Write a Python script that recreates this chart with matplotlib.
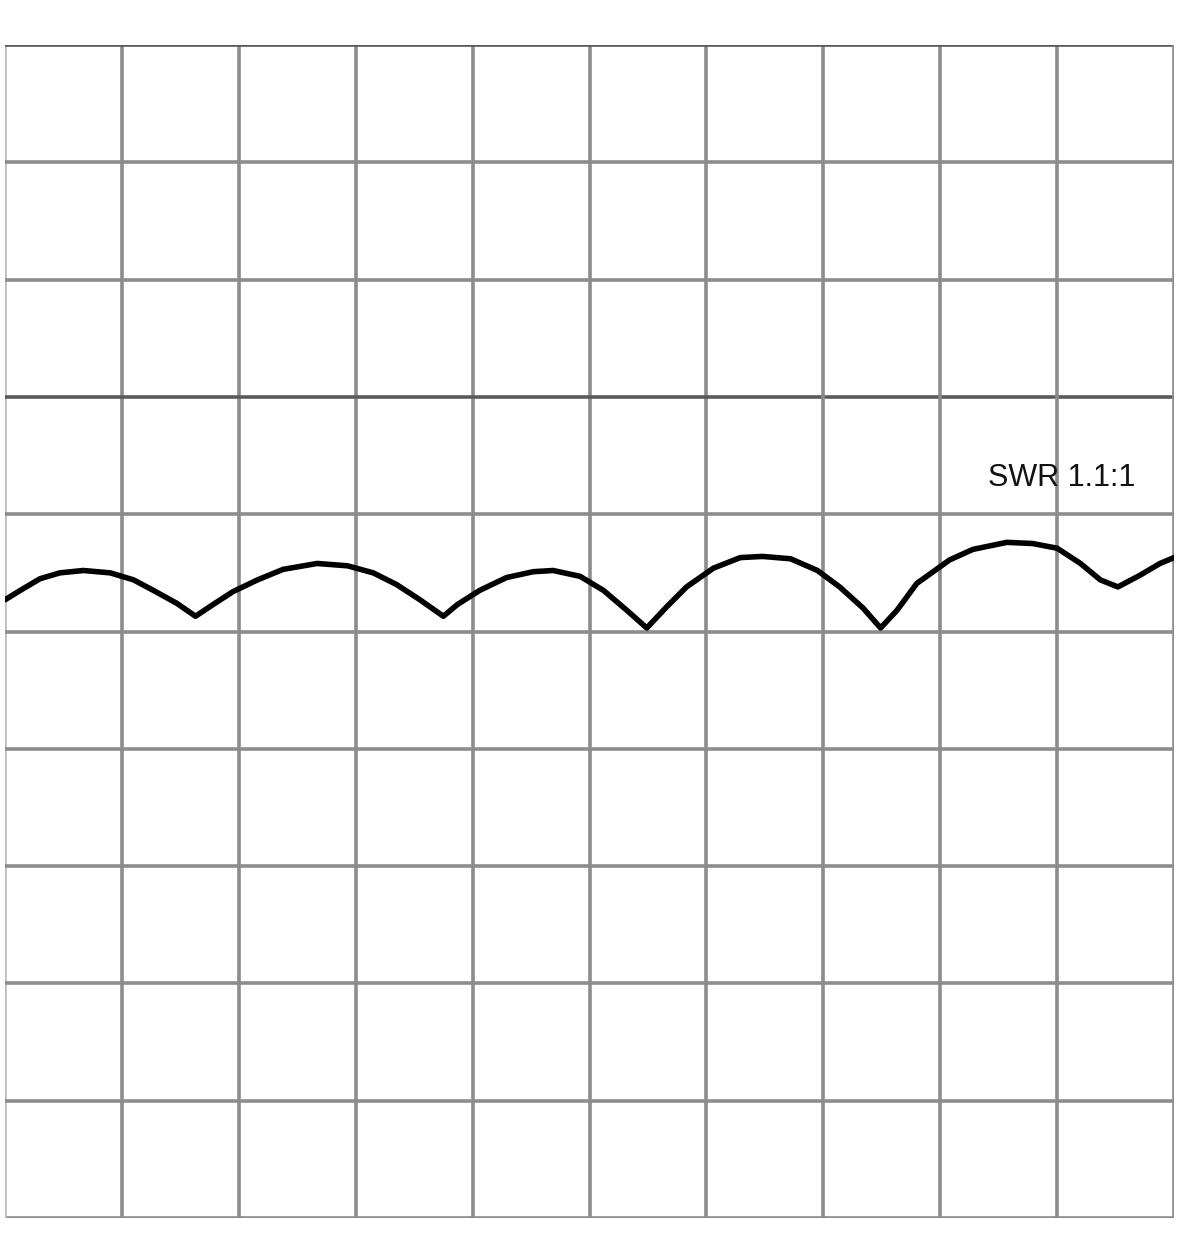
import matplotlib
matplotlib.use('Agg')
from matplotlib import pyplot as plt

# sweep trace (10 x 10 divisions)
x_div = [0.00, 0.13, 0.30, 0.47, 0.67, 0.90, 1.10, 1.27, 1.47, 1.63, 1.78, 1.95,
         2.16, 2.38, 2.67, 2.93, 3.15, 3.35, 3.55, 3.75, 3.87, 4.06, 4.29, 4.52,
         4.69, 4.92, 5.12, 5.32, 5.49, 5.66, 5.83, 6.06, 6.29, 6.48, 6.72, 6.95,
         7.14, 7.34, 7.49, 7.63, 7.80, 8.08, 8.28, 8.57, 8.79, 9.00, 9.20, 9.37,
         9.52, 9.71, 9.88, 10.00]
y_div = [5.27, 5.35, 5.45, 5.50, 5.52, 5.50, 5.44, 5.35, 5.24, 5.13, 5.23, 5.34,
         5.44, 5.53, 5.58, 5.56, 5.50, 5.40, 5.27, 5.13, 5.23, 5.35, 5.46, 5.51,
         5.52, 5.47, 5.35, 5.18, 5.03, 5.21, 5.38, 5.54, 5.63, 5.64, 5.62, 5.52,
         5.38, 5.20, 5.03, 5.18, 5.41, 5.61, 5.70, 5.76, 5.75, 5.71, 5.58, 5.44,
         5.38, 5.48, 5.58, 5.63]
label = 'SWR 1.1:1'
n_div = 10

fig = plt.figure(figsize=(12, 12.44), dpi=100)
ax = fig.add_axes([5 / 1200, 26 / 1244, 1169 / 1200, 1173 / 1244])
ax.set_xlim(0, n_div)
ax.set_ylim(0, n_div)

for i in range(n_div + 1):
    c = '#5a5a5a' if i in (10, 7) else '#8c8c8c'
    ax.axhline(i, color=c, lw=2.6, zorder=1)
    c = '#bdbdbd' if i == 0 else '#8c8c8c'
    ax.axvline(i, color=c, lw=2.6, zorder=1)

ax.plot(x_div, y_div, color='black', lw=4, solid_capstyle='round',
        solid_joinstyle='round', zorder=3)
ax.text(9.04, 6.31, label, fontsize=22, family='Liberation Sans',
        ha='center', va='center', color='#111111')

ax.set_xticks([])
ax.set_yticks([])
for s in ax.spines.values():
    s.set_visible(False)

plt.savefig('out.png', dpi=100)
